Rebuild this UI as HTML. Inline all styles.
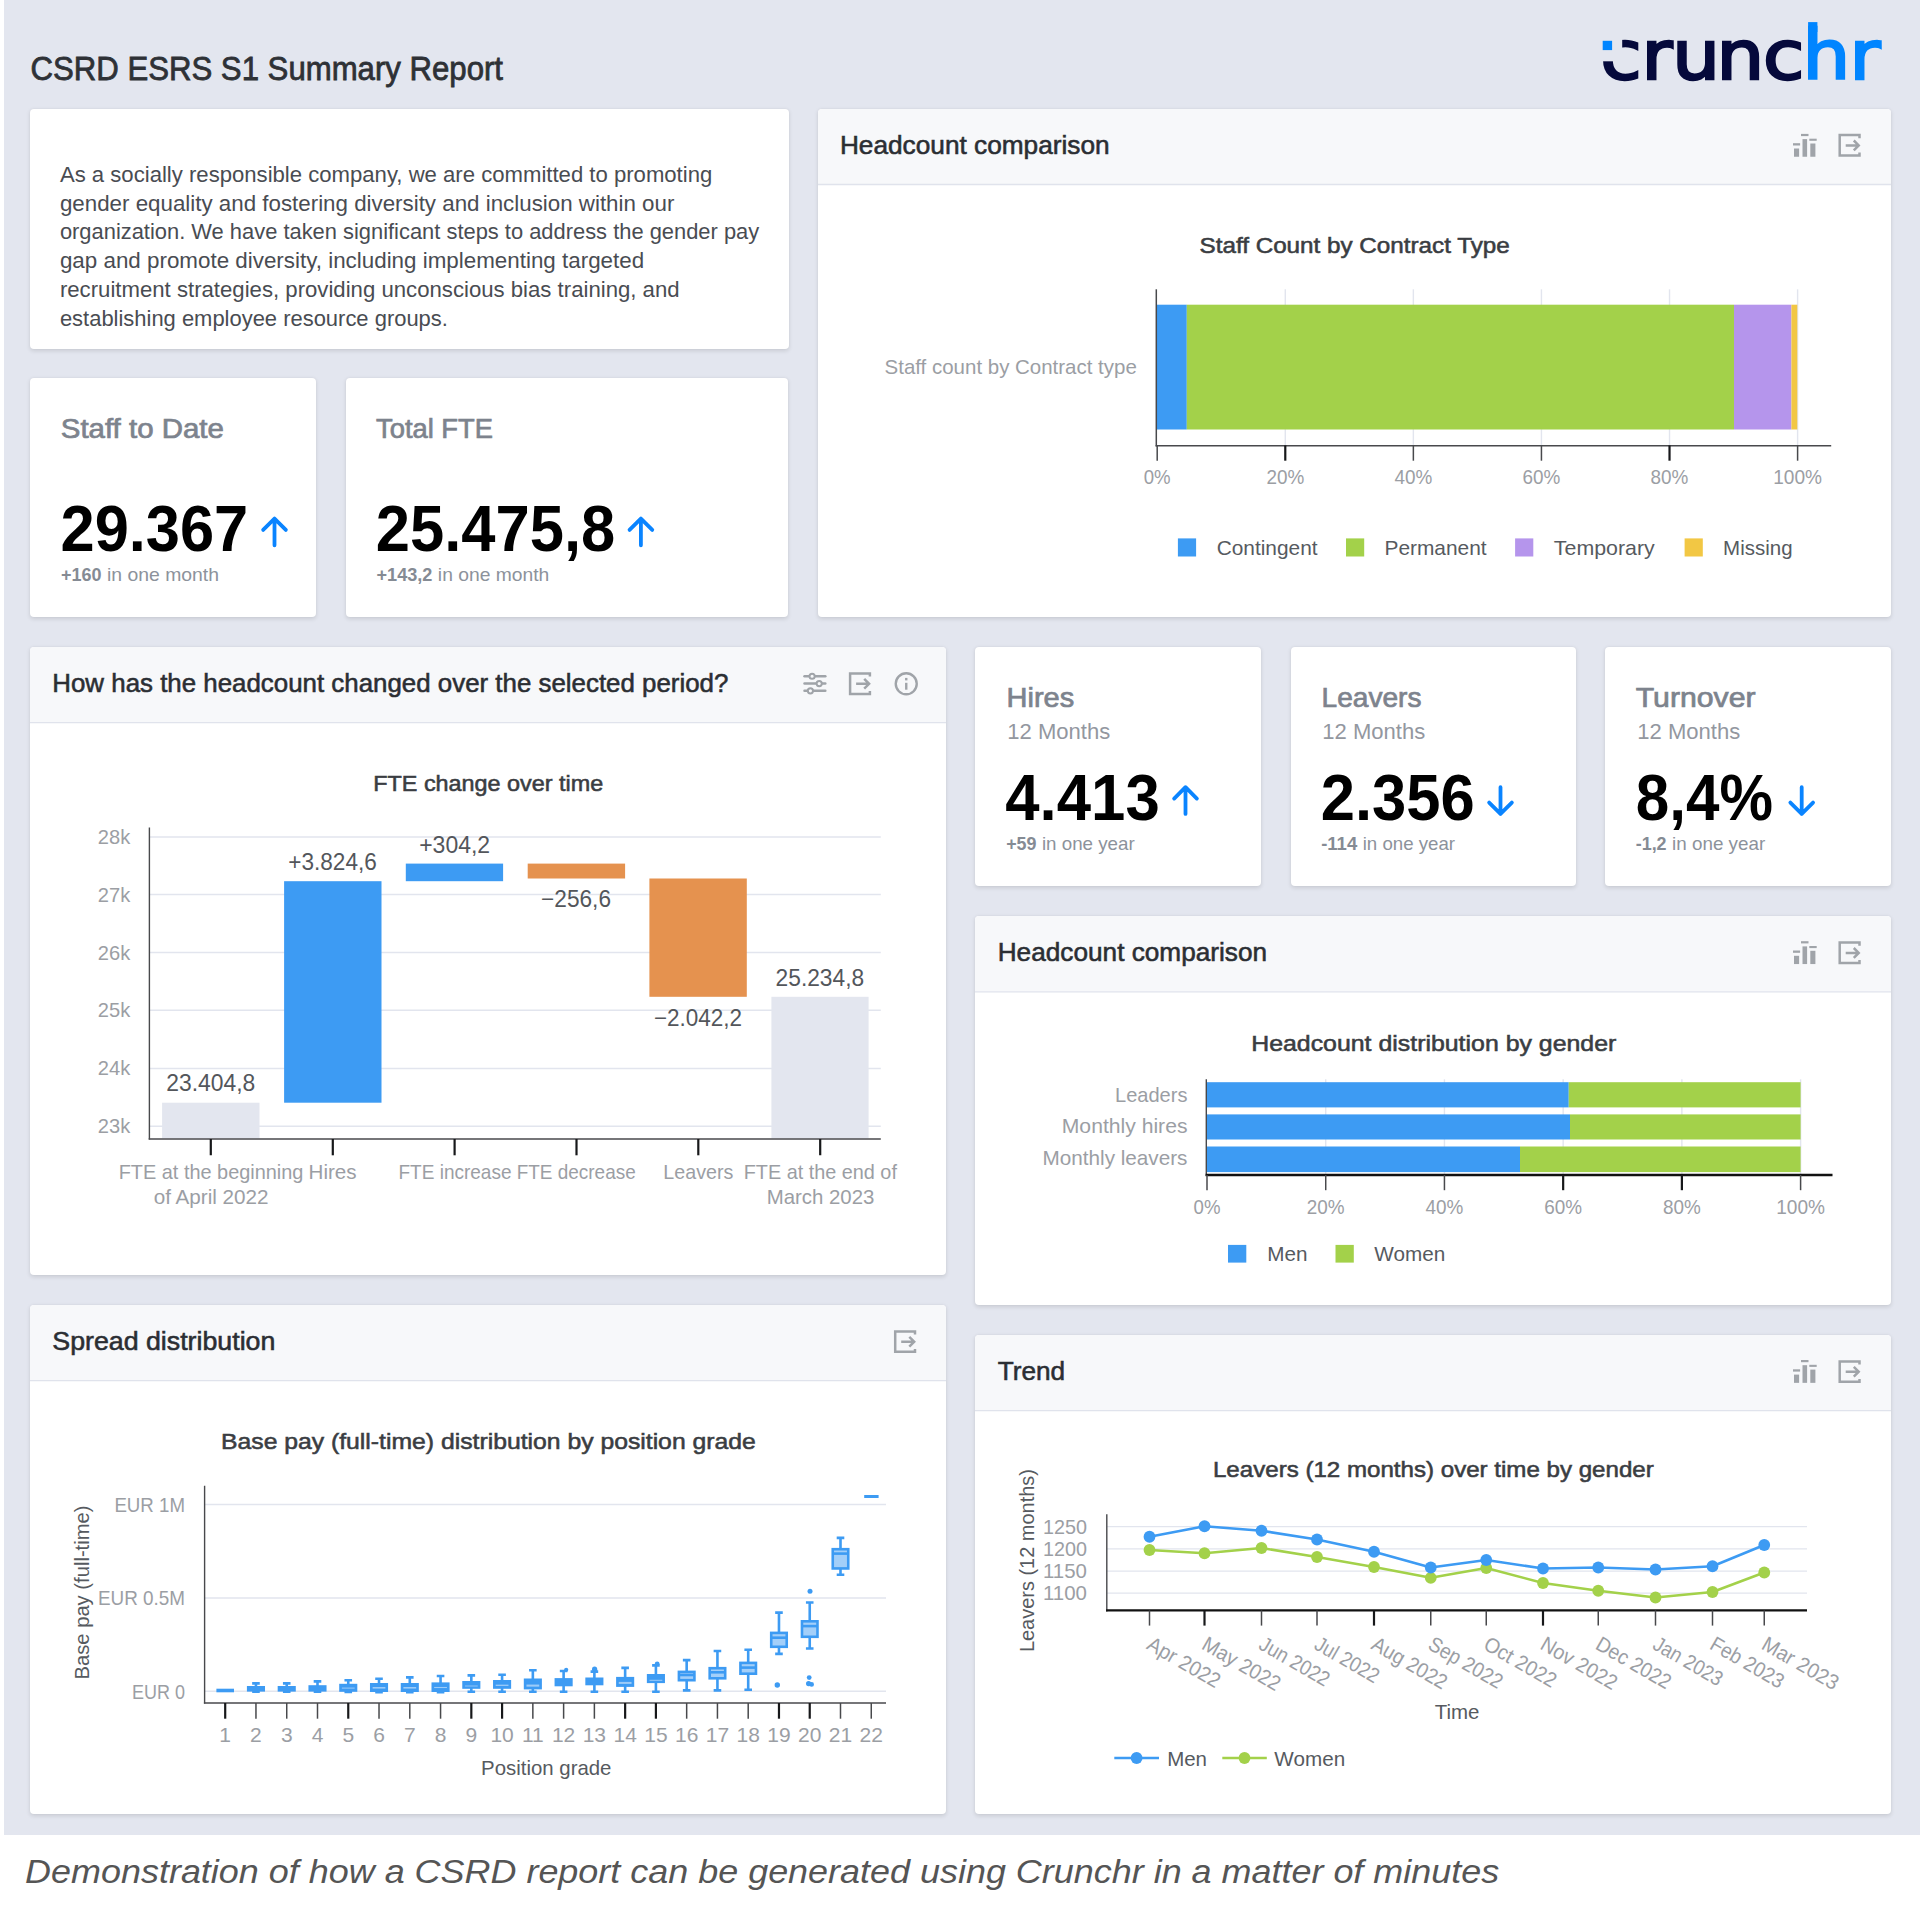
<!DOCTYPE html>
<html lang="en"><head><meta charset="utf-8"><title>CSRD ESRS S1 Summary Report</title>
<style>
html,body{margin:0;padding:0;background:#fff}
body{width:1920px;height:1918px;position:relative;overflow:hidden;font-family:"Liberation Sans",sans-serif}
svg{display:block;position:absolute;left:0;top:0;overflow:visible}
text{font-family:"Liberation Sans",sans-serif;font-weight:400}
.page{position:absolute;left:4px;top:0;width:1916px;height:1834.5px;background:#e3e6ef}
.card{position:absolute;background:#fff;border-radius:4px;box-shadow:0 1.5px 4px rgba(20,20,20,.12),0 0 2px rgba(20,20,20,.035);overflow:hidden}
.b{font-weight:700}
.semi{stroke:currentColor;stroke-width:.55px;paint-order:stroke}
.semi3{stroke:currentColor;stroke-width:.8px;paint-order:stroke}
.semi2{stroke:currentColor;stroke-width:.7px;paint-order:stroke}
.it{font-style:italic}
.logo{font-family:"DejaVu Sans","Liberation Sans",sans-serif;stroke-width:2.4px;stroke-linejoin:miter}
.cap{top:1835px}
</style></head><body>
<main class="page">
<svg class="hd" viewBox="4 0 1916 108" width="1916" height="108"><text x="30.52" y="79.5" font-size="33.7" fill="#2e3136" color="#2e3136" class="semi3" textLength="472.46" lengthAdjust="spacingAndGlyphs">CSRD ESRS S1 Summary Report</text><defs><linearGradient id="lg" gradientUnits="userSpaceOnUse" x1="1626.04" y1="0" x2="1626.22" y2="0"><stop offset="0" stop-color="#05093b"/><stop offset="1" stop-color="#0085ff"/></linearGradient></defs><text transform="scale(1.11 1)" y="79.5" x="1441.7 1478.93 1506.62 1546.29 1588.3 1623.96 1666.27" font-size="67.8" class="logo" fill="url(#lg)" stroke="url(#lg)">crunchr</text><rect x="1808.1" y="22.1" width="9.3" height="9.9" fill="#0085ff"/><rect x="1598" y="36" width="24.2" height="25.3" fill="#e3e6ef"/><rect x="1602.7" y="40.8" width="9.4" height="9.3" fill="#0085ff"/></svg>
<section class="card intro" style="left:26px;top:109px;width:759px;height:240px">
<svg class="cv" viewBox="30 109 759 240" width="759" height="240">
<text x="59.9" y="181.7" font-size="21.6" fill="#494c52" textLength="652.4" lengthAdjust="spacingAndGlyphs">As a socially responsible company, we are committed to promoting</text>
<text x="59.9" y="210.5" font-size="21.6" fill="#494c52" textLength="614.5" lengthAdjust="spacingAndGlyphs">gender equality and fostering diversity and inclusion within our</text>
<text x="59.9" y="239.3" font-size="21.6" fill="#494c52" textLength="699.3" lengthAdjust="spacingAndGlyphs">organization. We have taken significant steps to address the gender pay</text>
<text x="59.9" y="268.1" font-size="21.6" fill="#494c52" textLength="584.25" lengthAdjust="spacingAndGlyphs">gap and promote diversity, including implementing targeted</text>
<text x="59.9" y="296.9" font-size="21.6" fill="#494c52" textLength="619.7" lengthAdjust="spacingAndGlyphs">recruitment strategies, providing unconscious bias training, and</text>
<text x="59.9" y="325.7" font-size="21.6" fill="#494c52" textLength="388" lengthAdjust="spacingAndGlyphs">establishing employee resource groups.</text>
</svg></section>
<section class="card kpi staff" style="left:26px;top:378px;width:286px;height:239px">
<svg class="cv" viewBox="30 378 286 239" width="286" height="239">
<text x="60.76" y="437.7" font-size="26.9" fill="#7d838d" color="#7d838d" class="semi2" textLength="163.18" lengthAdjust="spacingAndGlyphs">Staff to Date</text>
<text x="60.5" y="551.25" font-size="64" fill="#000" class="b" textLength="187.7" lengthAdjust="spacingAndGlyphs">29.367</text>
<path d="M274.5 545.3 V518.6 M263.15 529.95 L274.5 518.6 L285.85 529.95" fill="none" stroke="#0a84ff" stroke-width="3.8" stroke-linecap="round" stroke-linejoin="round"/>
<text x="61" y="581.4" font-size="18.5" fill="#858b94" class="b" textLength="40.5" lengthAdjust="spacingAndGlyphs">+160</text>
<text x="107" y="581.4" font-size="18.5" fill="#8c929b" textLength="112" lengthAdjust="spacingAndGlyphs">in one month</text>
</svg></section>
<section class="card kpi fte" style="left:342px;top:378px;width:442px;height:239px">
<svg class="cv" viewBox="346 378 442 239" width="442" height="239">
<text x="376.06" y="437.7" font-size="26.9" fill="#7d838d" color="#7d838d" class="semi2" textLength="116.88" lengthAdjust="spacingAndGlyphs">Total FTE</text>
<text x="375.8" y="551.25" font-size="64" fill="#000" class="b" textLength="239.4" lengthAdjust="spacingAndGlyphs">25.475,8</text>
<path d="M640.9 545.3 V518.6 M629.55 529.95 L640.9 518.6 L652.25 529.95" fill="none" stroke="#0a84ff" stroke-width="3.8" stroke-linecap="round" stroke-linejoin="round"/>
<text x="376.5" y="581.4" font-size="18.5" fill="#858b94" class="b" textLength="55.88" lengthAdjust="spacingAndGlyphs">+143,2</text>
<text x="437.88" y="581.4" font-size="18.5" fill="#8c929b" textLength="111.37" lengthAdjust="spacingAndGlyphs">in one month</text>
</svg></section>
<section class="card kpi hires" style="left:971px;top:647px;width:286px;height:239px">
<svg class="cv" viewBox="975 647 286 239" width="286" height="239">
<text x="1007.23" y="739.05" font-size="22" fill="#93979f" textLength="103.04" lengthAdjust="spacingAndGlyphs">12 Months</text>
<text x="1006.56" y="706.7" font-size="26.9" fill="#7d838d" color="#7d838d" class="semi2" textLength="67.68" lengthAdjust="spacingAndGlyphs">Hires</text>
<text x="1005.3" y="820" font-size="64" fill="#000" class="b" textLength="154.4" lengthAdjust="spacingAndGlyphs">4.413</text>
<path d="M1185.5 813.9 V787.2 M1174.15 798.55 L1185.5 787.2 L1196.85 798.55" fill="none" stroke="#0a84ff" stroke-width="3.8" stroke-linecap="round" stroke-linejoin="round"/>
<text x="1006.2" y="850.3" font-size="18.5" fill="#858b94" class="b" textLength="30.25" lengthAdjust="spacingAndGlyphs">+59</text>
<text x="1041.95" y="850.3" font-size="18.5" fill="#8c929b" textLength="92.75" lengthAdjust="spacingAndGlyphs">in one year</text>
</svg></section>
<section class="card kpi leavers" style="left:1287px;top:647px;width:285px;height:239px">
<svg class="cv" viewBox="1291 647 285 239" width="285" height="239">
<text x="1322.23" y="739.05" font-size="22" fill="#93979f" textLength="103.04" lengthAdjust="spacingAndGlyphs">12 Months</text>
<text x="1321.56" y="706.7" font-size="26.9" fill="#7d838d" color="#7d838d" class="semi2" textLength="99.88" lengthAdjust="spacingAndGlyphs">Leavers</text>
<text x="1320.8" y="820" font-size="64" fill="#000" class="b" textLength="153.9" lengthAdjust="spacingAndGlyphs">2.356</text>
<path d="M1500.5 787.2 V813.9 M1489.15 802.55 L1500.5 813.9 L1511.85 802.55" fill="none" stroke="#0a84ff" stroke-width="3.8" stroke-linecap="round" stroke-linejoin="round"/>
<text x="1321.2" y="850.3" font-size="18.5" fill="#858b94" class="b" textLength="36.02" lengthAdjust="spacingAndGlyphs">-114</text>
<text x="1362.72" y="850.3" font-size="18.5" fill="#8c929b" textLength="92.28" lengthAdjust="spacingAndGlyphs">in one year</text>
</svg></section>
<section class="card kpi turnover" style="left:1601px;top:647px;width:286px;height:239px">
<svg class="cv" viewBox="1605 647 286 239" width="286" height="239">
<text x="1637.23" y="739.05" font-size="22" fill="#93979f" textLength="103.04" lengthAdjust="spacingAndGlyphs">12 Months</text>
<text x="1635.76" y="706.7" font-size="26.9" fill="#7d838d" color="#7d838d" class="semi2" textLength="119.88" lengthAdjust="spacingAndGlyphs">Turnover</text>
<text x="1635.8" y="820" font-size="64" fill="#000" class="b" textLength="137.2" lengthAdjust="spacingAndGlyphs">8,4%</text>
<path d="M1801.7 787.2 V813.9 M1790.35 802.55 L1801.7 813.9 L1813.05 802.55" fill="none" stroke="#0a84ff" stroke-width="3.8" stroke-linecap="round" stroke-linejoin="round"/>
<text x="1635.7" y="850.3" font-size="18.5" fill="#858b94" class="b" textLength="30.9" lengthAdjust="spacingAndGlyphs">-1,2</text>
<text x="1672.1" y="850.3" font-size="18.5" fill="#8c929b" textLength="93.1" lengthAdjust="spacingAndGlyphs">in one year</text>
</svg></section>
<section class="card chart contract" style="left:814px;top:109px;width:1073px;height:508px">
<svg class="cv" viewBox="818 109 1073 508" width="1073" height="508">
<rect x="818" y="109" width="1073" height="75.1" fill="#f7f8fa"/>
<line x1="818" y1="184.5" x2="1891" y2="184.5" stroke="#e0e3ec" stroke-width="1.3"/>
<text x="839.91" y="153.75" font-size="25.3" fill="#2b2e33" color="#2b2e33" class="semi" textLength="269.72" lengthAdjust="spacingAndGlyphs">Headcount comparison</text>
<g fill="#a0a4a9"><rect x="1793" y="143.2" width="7.1" height="2.3" fill="#a0a4a9"/><rect x="1794" y="148.5" width="5.1" height="8.25" fill="#a0a4a9"/><rect x="1801" y="133.9" width="7.5" height="2.2" fill="#a0a4a9"/><rect x="1802.5" y="139.1" width="4.6" height="17.65" fill="#a0a4a9"/><rect x="1809.3" y="138.7" width="7.4" height="2.1" fill="#a0a4a9"/><rect x="1810.3" y="143.5" width="5.1" height="13.25" fill="#a0a4a9"/></g>
<path d="M1859.5 138.2 V135.1 H1839.7 V155.55 H1859.5 V152.6" fill="none" stroke="#a0a4a9" stroke-width="2.5"/><path d="M1845.7 145.4 H1857.6 M1853.8 140.5 L1858.7 145.4 L1853.8 150.3" fill="none" stroke="#a0a4a9" stroke-width="2.5" stroke-linejoin="miter"/>
<text x="1199.52" y="252.5" font-size="22.3" fill="#3a3d42" color="#3a3d42" class="semi" textLength="310.26" lengthAdjust="spacingAndGlyphs">Staff Count by Contract Type</text>
<line x1="1285.28" y1="289.3" x2="1285.28" y2="445" stroke="#e2e5ee" stroke-width="1.4"/>
<line x1="1413.36" y1="289.3" x2="1413.36" y2="445" stroke="#e2e5ee" stroke-width="1.4"/>
<line x1="1541.44" y1="289.3" x2="1541.44" y2="445" stroke="#e2e5ee" stroke-width="1.4"/>
<line x1="1669.52" y1="289.3" x2="1669.52" y2="445" stroke="#e2e5ee" stroke-width="1.4"/>
<line x1="1797.6" y1="289.3" x2="1797.6" y2="445" stroke="#e2e5ee" stroke-width="1.4"/>
<rect x="1156.8" y="304.7" width="30" height="124.8" fill="#3d9bf3"/>
<rect x="1186.8" y="304.7" width="547.2" height="124.8" fill="#a3d14a"/>
<rect x="1734" y="304.7" width="57.4" height="124.8" fill="#b595ec"/>
<rect x="1791.4" y="304.7" width="5.9" height="124.8" fill="#f2c744"/>
<line x1="1156.3" y1="289.3" x2="1156.3" y2="446.4" stroke="#48494c" stroke-width="1.5"/>
<line x1="1155.6" y1="445.7" x2="1831.2" y2="445.7" stroke="#48494c" stroke-width="1.5"/>
<line x1="1157.2" y1="445.4" x2="1157.2" y2="460.7" stroke="#48494c" stroke-width="1.5"/>
<text x="1157.2" y="483.8" font-size="21" fill="#9b9ea4" textLength="26.9" lengthAdjust="spacingAndGlyphs" text-anchor="middle">0%</text>
<line x1="1285.28" y1="445.4" x2="1285.28" y2="460.7" stroke="#17181a" stroke-width="2.2"/>
<text x="1285.28" y="483.8" font-size="21" fill="#9b9ea4" textLength="37.8" lengthAdjust="spacingAndGlyphs" text-anchor="middle">20%</text>
<line x1="1413.36" y1="445.4" x2="1413.36" y2="460.7" stroke="#48494c" stroke-width="1.5"/>
<text x="1413.36" y="483.8" font-size="21" fill="#9b9ea4" textLength="37.8" lengthAdjust="spacingAndGlyphs" text-anchor="middle">40%</text>
<line x1="1541.44" y1="445.4" x2="1541.44" y2="460.7" stroke="#48494c" stroke-width="1.5"/>
<text x="1541.44" y="483.8" font-size="21" fill="#9b9ea4" textLength="37.8" lengthAdjust="spacingAndGlyphs" text-anchor="middle">60%</text>
<line x1="1669.52" y1="445.4" x2="1669.52" y2="460.7" stroke="#17181a" stroke-width="2.2"/>
<text x="1669.52" y="483.8" font-size="21" fill="#9b9ea4" textLength="37.8" lengthAdjust="spacingAndGlyphs" text-anchor="middle">80%</text>
<line x1="1797.6" y1="445.4" x2="1797.6" y2="460.7" stroke="#48494c" stroke-width="1.5"/>
<text x="1797.6" y="483.8" font-size="21" fill="#9b9ea4" textLength="48.8" lengthAdjust="spacingAndGlyphs" text-anchor="middle">100%</text>
<text x="884.57" y="374" font-size="20.8" fill="#9b9ea4" textLength="252.26" lengthAdjust="spacingAndGlyphs">Staff count by Contract type</text>
<rect x="1177.9" y="538.4" width="18.2" height="18.1" fill="#3d9bf3"/>
<text x="1216.67" y="555.4" font-size="20.9" fill="#565a60" textLength="100.86" lengthAdjust="spacingAndGlyphs">Contingent</text>
<rect x="1346" y="538.4" width="18.2" height="18.1" fill="#a3d14a"/>
<text x="1384.47" y="555.4" font-size="20.9" fill="#565a60" textLength="102.16" lengthAdjust="spacingAndGlyphs">Permanent</text>
<rect x="1515.1" y="538.4" width="18.2" height="18.1" fill="#b595ec"/>
<text x="1553.87" y="555.4" font-size="20.9" fill="#565a60" textLength="100.86" lengthAdjust="spacingAndGlyphs">Temporary</text>
<rect x="1684.6" y="538.4" width="18.2" height="18.1" fill="#f2c744"/>
<text x="1723.07" y="555.4" font-size="20.9" fill="#565a60" textLength="69.46" lengthAdjust="spacingAndGlyphs">Missing</text>
</svg></section>
<section class="card chart waterfall" style="left:26px;top:647px;width:916px;height:628px">
<svg class="cv" viewBox="30 647 916 628" width="916" height="628">
<rect x="30" y="647" width="916" height="75.2" fill="#f7f8fa"/>
<line x1="30" y1="722.6" x2="946" y2="722.6" stroke="#e0e3ec" stroke-width="1.3"/>
<text x="52.31" y="691.85" font-size="25.3" fill="#2b2e33" color="#2b2e33" class="semi" textLength="676.07" lengthAdjust="spacingAndGlyphs">How has the headcount changed over the selected period?</text>
<line x1="804.5" y1="676.25" x2="825.3" y2="676.25" stroke="#a0a4a9" stroke-width="2.5" stroke-linecap="round"/><circle cx="812.1" cy="676.25" r="2.6" fill="#f7f8fa" stroke="#a0a4a9" stroke-width="2"/><line x1="804.5" y1="683.6" x2="825.3" y2="683.6" stroke="#a0a4a9" stroke-width="2.5" stroke-linecap="round"/><circle cx="819.2" cy="683.6" r="2.6" fill="#f7f8fa" stroke="#a0a4a9" stroke-width="2"/><line x1="804.5" y1="690.85" x2="825.3" y2="690.85" stroke="#a0a4a9" stroke-width="2.5" stroke-linecap="round"/><circle cx="810.4" cy="690.85" r="2.6" fill="#f7f8fa" stroke="#a0a4a9" stroke-width="2"/>
<path d="M869.9 676.6 V673.5 H850.1 V693.95 H869.9 V691" fill="none" stroke="#a0a4a9" stroke-width="2.5"/><path d="M856.1 683.8 H868 M864.2 678.9 L869.1 683.8 L864.2 688.7" fill="none" stroke="#a0a4a9" stroke-width="2.5" stroke-linejoin="miter"/>
<circle cx="906.25" cy="683.8" r="10.5" fill="none" stroke="#a0a4a9" stroke-width="2.4"/>
<rect x="905.05" y="677.9" width="2.4" height="2.5" fill="#a0a4a9"/>
<rect x="905.05" y="682.8" width="2.4" height="6.9" fill="#a0a4a9"/>
<text x="373.22" y="790.75" font-size="22.3" fill="#3a3d42" color="#3a3d42" class="semi" textLength="230.06" lengthAdjust="spacingAndGlyphs">FTE change over time</text>
<line x1="149.4" y1="836.9" x2="880.8" y2="836.9" stroke="#e2e5ee" stroke-width="1.5"/>
<text x="130.2" y="843.8" font-size="21" fill="#9b9ea4" textLength="32.4" lengthAdjust="spacingAndGlyphs" text-anchor="end">28k</text>
<line x1="149.4" y1="894.6" x2="880.8" y2="894.6" stroke="#e2e5ee" stroke-width="1.5"/>
<text x="130.2" y="901.5" font-size="21" fill="#9b9ea4" textLength="32.4" lengthAdjust="spacingAndGlyphs" text-anchor="end">27k</text>
<line x1="149.4" y1="952.6" x2="880.8" y2="952.6" stroke="#e2e5ee" stroke-width="1.5"/>
<text x="130.2" y="959.5" font-size="21" fill="#9b9ea4" textLength="32.4" lengthAdjust="spacingAndGlyphs" text-anchor="end">26k</text>
<line x1="149.4" y1="1010.3" x2="880.8" y2="1010.3" stroke="#e2e5ee" stroke-width="1.5"/>
<text x="130.2" y="1017.2" font-size="21" fill="#9b9ea4" textLength="32.4" lengthAdjust="spacingAndGlyphs" text-anchor="end">25k</text>
<line x1="149.4" y1="1068.4" x2="880.8" y2="1068.4" stroke="#e2e5ee" stroke-width="1.5"/>
<text x="130.2" y="1075.3" font-size="21" fill="#9b9ea4" textLength="32.4" lengthAdjust="spacingAndGlyphs" text-anchor="end">24k</text>
<line x1="149.4" y1="1126.2" x2="880.8" y2="1126.2" stroke="#e2e5ee" stroke-width="1.5"/>
<text x="130.2" y="1133.1" font-size="21" fill="#9b9ea4" textLength="32.4" lengthAdjust="spacingAndGlyphs" text-anchor="end">23k</text>
<rect x="162.1" y="1102.7" width="97.4" height="35.6" fill="#e3e6ef"/>
<rect x="284.1" y="881.2" width="97.4" height="221.5" fill="#3d9bf3"/>
<rect x="405.8" y="863.6" width="97.3" height="17.6" fill="#3d9bf3"/>
<rect x="527.7" y="863.6" width="97.4" height="14.9" fill="#e5924f"/>
<rect x="649.4" y="878.5" width="97.4" height="118.3" fill="#e5924f"/>
<rect x="771.4" y="996.8" width="97.2" height="141.5" fill="#e3e6ef"/>
<line x1="149.4" y1="827.5" x2="149.4" y2="1139.6" stroke="#48494c" stroke-width="1.4"/>
<line x1="148.7" y1="1138.9" x2="880.8" y2="1138.9" stroke="#48494c" stroke-width="1.5"/>
<line x1="210.8" y1="1139" x2="210.8" y2="1155.3" stroke="#17181a" stroke-width="2.2"/>
<line x1="332.8" y1="1139" x2="332.8" y2="1155.3" stroke="#17181a" stroke-width="2.2"/>
<line x1="454.6" y1="1139" x2="454.6" y2="1155.3" stroke="#17181a" stroke-width="2.2"/>
<line x1="576.5" y1="1139" x2="576.5" y2="1155.3" stroke="#17181a" stroke-width="2.2"/>
<line x1="698.3" y1="1139" x2="698.3" y2="1155.3" stroke="#17181a" stroke-width="2.2"/>
<line x1="820.2" y1="1139" x2="820.2" y2="1155.3" stroke="#17181a" stroke-width="2.2"/>
<text x="166.29" y="1090.9" font-size="23" fill="#53565b" textLength="89.01" lengthAdjust="spacingAndGlyphs">23.404,8</text>
<text x="288.3" y="870.2" font-size="23" fill="#53565b" textLength="88.51" lengthAdjust="spacingAndGlyphs">+3.824,6</text>
<text x="419.19" y="852.7" font-size="23" fill="#53565b" textLength="70.91" lengthAdjust="spacingAndGlyphs">+304,2</text>
<text x="541.1" y="907" font-size="23" fill="#53565b" textLength="69.91" lengthAdjust="spacingAndGlyphs">−256,6</text>
<text x="653.9" y="1025.7" font-size="23" fill="#53565b" textLength="88.11" lengthAdjust="spacingAndGlyphs">−2.042,2</text>
<text x="775.6" y="985.8" font-size="23" fill="#53565b" textLength="88.51" lengthAdjust="spacingAndGlyphs">25.234,8</text>
<text x="118.67" y="1179" font-size="20.8" fill="#9b9ea4" textLength="184.76" lengthAdjust="spacingAndGlyphs">FTE at the beginning</text>
<text x="153.67" y="1203.7" font-size="20.8" fill="#9b9ea4" textLength="114.96" lengthAdjust="spacingAndGlyphs">of April 2022</text>
<text x="308.57" y="1179" font-size="20.8" fill="#9b9ea4" textLength="48.06" lengthAdjust="spacingAndGlyphs">Hires</text>
<text x="398.47" y="1179" font-size="20.8" fill="#9b9ea4" textLength="113.06" lengthAdjust="spacingAndGlyphs">FTE increase</text>
<text x="516.67" y="1179" font-size="20.8" fill="#9b9ea4" textLength="119.06" lengthAdjust="spacingAndGlyphs">FTE decrease</text>
<text x="663.37" y="1179" font-size="20.8" fill="#9b9ea4" textLength="69.96" lengthAdjust="spacingAndGlyphs">Leavers</text>
<text x="743.67" y="1179" font-size="20.8" fill="#9b9ea4" textLength="153.26" lengthAdjust="spacingAndGlyphs">FTE at the end of</text>
<text x="766.67" y="1203.7" font-size="20.8" fill="#9b9ea4" textLength="107.66" lengthAdjust="spacingAndGlyphs">March 2023</text>
</svg></section>
<section class="card chart gender" style="left:971px;top:916px;width:916px;height:389px">
<svg class="cv" viewBox="975 916 916 389" width="916" height="389">
<rect x="975" y="916" width="916" height="75.4" fill="#f7f8fa"/>
<line x1="975" y1="991.8" x2="1891" y2="991.8" stroke="#e0e3ec" stroke-width="1.3"/>
<text x="997.71" y="961.05" font-size="25.3" fill="#2b2e33" color="#2b2e33" class="semi" textLength="269.42" lengthAdjust="spacingAndGlyphs">Headcount comparison</text>
<g fill="#a0a4a9"><rect x="1793" y="950.5" width="7.1" height="2.3" fill="#a0a4a9"/><rect x="1794" y="955.8" width="5.1" height="8.25" fill="#a0a4a9"/><rect x="1801" y="941.2" width="7.5" height="2.2" fill="#a0a4a9"/><rect x="1802.5" y="946.4" width="4.6" height="17.65" fill="#a0a4a9"/><rect x="1809.3" y="946" width="7.4" height="2.1" fill="#a0a4a9"/><rect x="1810.3" y="950.8" width="5.1" height="13.25" fill="#a0a4a9"/></g>
<path d="M1859.5 945.7 V942.6 H1839.7 V963.05 H1859.5 V960.1" fill="none" stroke="#a0a4a9" stroke-width="2.5"/><path d="M1845.7 952.9 H1857.6 M1853.8 948 L1858.7 952.9 L1853.8 957.8" fill="none" stroke="#a0a4a9" stroke-width="2.5" stroke-linejoin="miter"/>
<text x="1251.22" y="1051.25" font-size="22.3" fill="#3a3d42" color="#3a3d42" class="semi" textLength="365.06" lengthAdjust="spacingAndGlyphs">Headcount distribution by gender</text>
<line x1="1325.72" y1="1079.3" x2="1325.72" y2="1174" stroke="#e2e5ee" stroke-width="1.4"/>
<line x1="1444.44" y1="1079.3" x2="1444.44" y2="1174" stroke="#e2e5ee" stroke-width="1.4"/>
<line x1="1563.16" y1="1079.3" x2="1563.16" y2="1174" stroke="#e2e5ee" stroke-width="1.4"/>
<line x1="1681.88" y1="1079.3" x2="1681.88" y2="1174" stroke="#e2e5ee" stroke-width="1.4"/>
<line x1="1800.6" y1="1079.3" x2="1800.6" y2="1174" stroke="#e2e5ee" stroke-width="1.4"/>
<rect x="1206.8" y="1082.2" width="361.95" height="25.2" fill="#3d9bf3"/>
<rect x="1568.75" y="1082.2" width="231.85" height="25.2" fill="#a3d14a"/>
<rect x="1206.8" y="1114.4" width="363.2" height="25.1" fill="#3d9bf3"/>
<rect x="1570" y="1114.4" width="230.6" height="25.1" fill="#a3d14a"/>
<rect x="1206.8" y="1146.5" width="313.2" height="25.6" fill="#3d9bf3"/>
<rect x="1520" y="1146.5" width="280.6" height="25.6" fill="#a3d14a"/>
<line x1="1206.3" y1="1079.3" x2="1206.3" y2="1176" stroke="#48494c" stroke-width="1.4"/>
<line x1="1205.6" y1="1175" x2="1832.5" y2="1175" stroke="#111" stroke-width="2.3"/>
<line x1="1207" y1="1175" x2="1207" y2="1190.2" stroke="#48494c" stroke-width="1.5"/>
<text x="1207" y="1214.25" font-size="21" fill="#9b9ea4" textLength="26.9" lengthAdjust="spacingAndGlyphs" text-anchor="middle">0%</text>
<line x1="1325.72" y1="1175" x2="1325.72" y2="1190.2" stroke="#48494c" stroke-width="1.5"/>
<text x="1325.72" y="1214.25" font-size="21" fill="#9b9ea4" textLength="37.8" lengthAdjust="spacingAndGlyphs" text-anchor="middle">20%</text>
<line x1="1444.44" y1="1175" x2="1444.44" y2="1190.2" stroke="#48494c" stroke-width="1.5"/>
<text x="1444.44" y="1214.25" font-size="21" fill="#9b9ea4" textLength="37.8" lengthAdjust="spacingAndGlyphs" text-anchor="middle">40%</text>
<line x1="1563.16" y1="1175" x2="1563.16" y2="1190.2" stroke="#17181a" stroke-width="2.2"/>
<text x="1563.16" y="1214.25" font-size="21" fill="#9b9ea4" textLength="37.8" lengthAdjust="spacingAndGlyphs" text-anchor="middle">60%</text>
<line x1="1681.88" y1="1175" x2="1681.88" y2="1190.2" stroke="#17181a" stroke-width="2.2"/>
<text x="1681.88" y="1214.25" font-size="21" fill="#9b9ea4" textLength="37.8" lengthAdjust="spacingAndGlyphs" text-anchor="middle">80%</text>
<line x1="1800.6" y1="1175" x2="1800.6" y2="1190.2" stroke="#48494c" stroke-width="1.5"/>
<text x="1800.6" y="1214.25" font-size="21" fill="#9b9ea4" textLength="48.8" lengthAdjust="spacingAndGlyphs" text-anchor="middle">100%</text>
<text x="1115.02" y="1102" font-size="20.8" fill="#9b9ea4" textLength="72.46" lengthAdjust="spacingAndGlyphs">Leaders</text>
<text x="1061.77" y="1133.2" font-size="20.8" fill="#9b9ea4" textLength="125.71" lengthAdjust="spacingAndGlyphs">Monthly hires</text>
<text x="1042.52" y="1165" font-size="20.8" fill="#9b9ea4" textLength="144.96" lengthAdjust="spacingAndGlyphs">Monthly leavers</text>
<rect x="1228" y="1244.9" width="18.3" height="17.7" fill="#3d9bf3"/>
<text x="1267.27" y="1261.25" font-size="20.9" fill="#565a60" textLength="40.21" lengthAdjust="spacingAndGlyphs">Men</text>
<rect x="1335.5" y="1244.9" width="18.3" height="17.7" fill="#a3d14a"/>
<text x="1374.27" y="1261.25" font-size="20.9" fill="#565a60" textLength="70.96" lengthAdjust="spacingAndGlyphs">Women</text>
</svg></section>
<section class="card chart spread" style="left:26px;top:1305px;width:916px;height:509px">
<svg class="cv" viewBox="30 1305 916 509" width="916" height="509">
<rect x="30" y="1305" width="916" height="75.2" fill="#f7f8fa"/>
<line x1="30" y1="1380.6" x2="946" y2="1380.6" stroke="#e0e3ec" stroke-width="1.3"/>
<text x="52.31" y="1349.85" font-size="25.3" fill="#2b2e33" color="#2b2e33" class="semi" textLength="223.07" lengthAdjust="spacingAndGlyphs">Spread distribution</text>
<path d="M915 1334.5 V1331.4 H895.2 V1351.85 H915 V1348.9" fill="none" stroke="#a0a4a9" stroke-width="2.5"/><path d="M901.2 1341.7 H913.1 M909.3 1336.8 L914.2 1341.7 L909.3 1346.6" fill="none" stroke="#a0a4a9" stroke-width="2.5" stroke-linejoin="miter"/>
<text x="221.02" y="1448.75" font-size="22.3" fill="#3a3d42" color="#3a3d42" class="semi" textLength="534.76" lengthAdjust="spacingAndGlyphs">Base pay (full-time) distribution by position grade</text>
<line x1="204.6" y1="1504.6" x2="886" y2="1504.6" stroke="#e2e5ee" stroke-width="1.5"/>
<text x="185" y="1512" font-size="21" fill="#9b9ea4" textLength="70.6" lengthAdjust="spacingAndGlyphs" text-anchor="end">EUR 1M</text>
<line x1="204.6" y1="1598" x2="886" y2="1598" stroke="#e2e5ee" stroke-width="1.5"/>
<text x="185" y="1605.4" font-size="21" fill="#9b9ea4" textLength="87" lengthAdjust="spacingAndGlyphs" text-anchor="end">EUR 0.5M</text>
<line x1="204.6" y1="1691.3" x2="886" y2="1691.3" stroke="#e2e5ee" stroke-width="1.5"/>
<text x="185" y="1698.7" font-size="21" fill="#9b9ea4" textLength="53" lengthAdjust="spacingAndGlyphs" text-anchor="end">EUR 0</text>
<text x="0" y="0" font-size="20.9" fill="#565a60" text-anchor="middle" transform="translate(89.4 1592.5) rotate(-90)" textLength="174" lengthAdjust="spacingAndGlyphs">Base pay (full-time)</text>
<g stroke="#3d9bf3" stroke-width="2.6" fill="none"><line x1="216.4" y1="1690.5" x2="234" y2="1690.5" stroke="#3d9bf3" stroke-width="3.6"/><path d="M252.16 1683.4H259.76 M255.96 1683.4V1687.25"/><path d="M252.16 1691.8H259.76 M255.96 1691.8V1690.35"/><rect x="246.91" y="1686" width="18.1" height="5.6" fill="#3d9bf3" stroke="none"/><path d="M282.93 1683.4H290.53 M286.73 1683.4V1687.25"/><path d="M282.93 1691.8H290.53 M286.73 1691.8V1690.35"/><rect x="277.68" y="1686" width="18.1" height="5.6" fill="#3d9bf3" stroke="none"/><path d="M313.69 1681.4H321.3 M317.5 1681.4V1686.45"/><path d="M313.69 1691.8H321.3 M317.5 1691.8V1690.35"/><rect x="308.44" y="1685.2" width="18.1" height="6.4" fill="#3d9bf3" stroke="none"/><path d="M344.46 1680.2H352.06 M348.26 1680.2V1685.05"/><path d="M344.46 1692H352.06 M348.26 1692V1690.55"/><rect x="339.21" y="1683.8" width="18.1" height="8" fill="#3d9bf3" stroke="none"/><line x1="341.86" y1="1688.1" x2="354.66" y2="1688.1" stroke="#9ccbf8" stroke-width="1"/><path d="M375.22 1678.8H382.82 M379.02 1678.8V1684.25"/><path d="M375.22 1692.2H382.82 M379.02 1692.2V1690.75"/><rect x="369.97" y="1683" width="18.1" height="9" fill="#3d9bf3" stroke="none"/><line x1="372.62" y1="1687.8" x2="385.42" y2="1687.8" stroke="#9ccbf8" stroke-width="1.6"/><path d="M405.99 1677.4H413.59 M409.79 1677.4V1684.25"/><path d="M405.99 1692.2H413.59 M409.79 1692.2V1690.75"/><rect x="400.74" y="1683" width="18.1" height="9" fill="#3d9bf3" stroke="none"/><line x1="403.39" y1="1687.8" x2="416.19" y2="1687.8" stroke="#9ccbf8" stroke-width="1.6"/><path d="M436.75 1676H444.36 M440.56 1676V1683.65"/><path d="M436.75 1692.2H444.36 M440.56 1692.2V1690.75"/><rect x="431.5" y="1682.4" width="18.1" height="9.6" fill="#3d9bf3" stroke="none"/><line x1="434.16" y1="1687.5" x2="446.95" y2="1687.5" stroke="#9ccbf8" stroke-width="1.1"/><path d="M467.52 1675.4H475.12 M471.32 1675.4V1682.25"/><path d="M467.52 1691.8H475.12 M471.32 1691.8V1687.55"/><rect x="462.27" y="1681" width="18.1" height="7.8" fill="#3d9bf3" stroke="none"/><line x1="464.92" y1="1686" x2="477.72" y2="1686" stroke="#9ccbf8" stroke-width="0.9"/><path d="M498.28 1674.8H505.88 M502.08 1674.8V1681.25"/><path d="M498.28 1691.8H505.88 M502.08 1691.8V1687.55"/><rect x="493.03" y="1680" width="18.1" height="8.8" fill="#3d9bf3" stroke="none"/><line x1="495.69" y1="1685.3" x2="508.48" y2="1685.3" stroke="#9ccbf8" stroke-width="1.3"/><path d="M529.05 1670.2H536.65 M532.85 1670.2V1679.75"/><path d="M529.05 1691.8H536.65 M532.85 1691.8V1688.15"/><rect x="523.8" y="1678.5" width="18.1" height="10.9" fill="#3d9bf3" stroke="none"/><line x1="526.45" y1="1685.6" x2="539.25" y2="1685.6" stroke="#9ccbf8" stroke-width="2.1"/><path d="M559.82 1671H567.41 M563.62 1671V1679.35"/><path d="M559.82 1691.8H567.41 M563.62 1691.8V1685.05"/><rect x="554.57" y="1678.1" width="18.1" height="8.2" fill="#3d9bf3" stroke="none"/><path d="M590.58 1671.6H598.18 M594.38 1671.6V1678.75"/><path d="M590.58 1691.8H598.18 M594.38 1691.8V1684.05"/><rect x="585.33" y="1677.5" width="18.1" height="7.8" fill="#3d9bf3" stroke="none"/><path d="M621.35 1667.9H628.94 M625.14 1667.9V1678.15"/><path d="M621.35 1691.8H628.94 M625.14 1691.8V1685.65"/><rect x="616.1" y="1676.9" width="18.1" height="10" fill="#3d9bf3" stroke="none"/><line x1="618.75" y1="1682.9" x2="631.54" y2="1682.9" stroke="#9ccbf8" stroke-width="2"/><path d="M652.11 1665.4H659.71 M655.91 1665.4V1675.25"/><path d="M652.11 1691.8H659.71 M655.91 1691.8V1681.85"/><rect x="646.86" y="1674" width="18.1" height="9.1" fill="#3d9bf3" stroke="none"/><line x1="649.51" y1="1680.3" x2="662.31" y2="1680.3" stroke="#9ccbf8" stroke-width="1"/><path d="M682.88 1660.1H690.47 M686.67 1660.1V1671.85"/><path d="M682.88 1690.4H690.47 M686.67 1690.4V1680.25"/><rect x="678.92" y="1671.9" width="15.5" height="8.3" fill="#a3cff9"/><path d="M678.92 1675H694.42"/><path d="M713.64 1651H721.24 M717.44 1651V1668.15"/><path d="M713.64 1690.4H721.24 M717.44 1690.4V1678.35"/><rect x="709.69" y="1668.2" width="15.5" height="10.1" fill="#a3cff9"/><path d="M709.69 1672.3H725.19"/><path d="M744.4 1649.8H752 M748.2 1649.8V1662.85"/><path d="M744.4 1689.8H752 M748.2 1689.8V1673.75"/><rect x="740.45" y="1662.9" width="15.5" height="10.8" fill="#a3cff9"/><path d="M740.45 1667.6H755.95"/><path d="M775.17 1612.6H782.77 M778.97 1612.6V1632.85"/><path d="M775.17 1653.9H782.77 M778.97 1653.9V1646.85"/><rect x="771.22" y="1632.9" width="15.5" height="13.9" fill="#a3cff9"/><path d="M771.22 1637.7H786.72"/><path d="M805.93 1602.5H813.53 M809.73 1602.5V1621.25"/><path d="M805.93 1648.5H813.53 M809.73 1648.5V1636.85"/><rect x="801.98" y="1621.3" width="15.5" height="15.5" fill="#a3cff9"/><path d="M801.98 1626.1H817.48"/><path d="M836.7 1537.9H844.3 M840.5 1537.9V1549.15"/><path d="M836.7 1574.8H844.3 M840.5 1574.8V1568.5"/><rect x="832.75" y="1549.2" width="15.5" height="19.25" fill="#a3cff9"/><path d="M832.75 1553.6H848.25"/><line x1="864.2" y1="1496.5" x2="878.6" y2="1496.5" stroke="#3d9bf3" stroke-width="2.8"/></g><g fill="#3d9bf3"><circle cx="566.2" cy="1669.8" r="2.1"/><circle cx="594.6" cy="1669.2" r="2.6"/><circle cx="657.2" cy="1663.8" r="2.4"/><circle cx="777.3" cy="1685" r="2.7"/><circle cx="810" cy="1591.3" r="2.5"/><circle cx="809.2" cy="1677.6" r="2.4"/><circle cx="808.6" cy="1683.6" r="2.6"/><circle cx="811.6" cy="1684.4" r="2.4"/></g>
<line x1="204.6" y1="1485.7" x2="204.6" y2="1703.6" stroke="#48494c" stroke-width="1.4"/>
<line x1="203.9" y1="1702.9" x2="886" y2="1702.9" stroke="#48494c" stroke-width="1.5"/>
<line x1="225.2" y1="1703" x2="225.2" y2="1718.7" stroke="#17181a" stroke-width="2.2"/>
<text x="225.2" y="1742" font-size="21" fill="#9b9ea4" text-anchor="middle">1</text>
<line x1="255.96" y1="1703" x2="255.96" y2="1718.7" stroke="#48494c" stroke-width="1.5"/>
<text x="255.96" y="1742" font-size="21" fill="#9b9ea4" text-anchor="middle">2</text>
<line x1="286.73" y1="1703" x2="286.73" y2="1718.7" stroke="#48494c" stroke-width="1.5"/>
<text x="286.73" y="1742" font-size="21" fill="#9b9ea4" text-anchor="middle">3</text>
<line x1="317.5" y1="1703" x2="317.5" y2="1718.7" stroke="#48494c" stroke-width="1.5"/>
<text x="317.5" y="1742" font-size="21" fill="#9b9ea4" text-anchor="middle">4</text>
<line x1="348.26" y1="1703" x2="348.26" y2="1718.7" stroke="#17181a" stroke-width="2.2"/>
<text x="348.26" y="1742" font-size="21" fill="#9b9ea4" text-anchor="middle">5</text>
<line x1="379.02" y1="1703" x2="379.02" y2="1718.7" stroke="#48494c" stroke-width="1.5"/>
<text x="379.02" y="1742" font-size="21" fill="#9b9ea4" text-anchor="middle">6</text>
<line x1="409.79" y1="1703" x2="409.79" y2="1718.7" stroke="#48494c" stroke-width="1.5"/>
<text x="409.79" y="1742" font-size="21" fill="#9b9ea4" text-anchor="middle">7</text>
<line x1="440.56" y1="1703" x2="440.56" y2="1718.7" stroke="#48494c" stroke-width="1.5"/>
<text x="440.56" y="1742" font-size="21" fill="#9b9ea4" text-anchor="middle">8</text>
<line x1="471.32" y1="1703" x2="471.32" y2="1718.7" stroke="#17181a" stroke-width="2.2"/>
<text x="471.32" y="1742" font-size="21" fill="#9b9ea4" text-anchor="middle">9</text>
<line x1="502.08" y1="1703" x2="502.08" y2="1718.7" stroke="#17181a" stroke-width="2.2"/>
<text x="502.08" y="1742" font-size="21" fill="#9b9ea4" text-anchor="middle">10</text>
<line x1="532.85" y1="1703" x2="532.85" y2="1718.7" stroke="#48494c" stroke-width="1.5"/>
<text x="532.85" y="1742" font-size="21" fill="#9b9ea4" text-anchor="middle">11</text>
<line x1="563.62" y1="1703" x2="563.62" y2="1718.7" stroke="#48494c" stroke-width="1.5"/>
<text x="563.62" y="1742" font-size="21" fill="#9b9ea4" text-anchor="middle">12</text>
<line x1="594.38" y1="1703" x2="594.38" y2="1718.7" stroke="#48494c" stroke-width="1.5"/>
<text x="594.38" y="1742" font-size="21" fill="#9b9ea4" text-anchor="middle">13</text>
<line x1="625.14" y1="1703" x2="625.14" y2="1718.7" stroke="#17181a" stroke-width="2.2"/>
<text x="625.14" y="1742" font-size="21" fill="#9b9ea4" text-anchor="middle">14</text>
<line x1="655.91" y1="1703" x2="655.91" y2="1718.7" stroke="#17181a" stroke-width="2.2"/>
<text x="655.91" y="1742" font-size="21" fill="#9b9ea4" text-anchor="middle">15</text>
<line x1="686.67" y1="1703" x2="686.67" y2="1718.7" stroke="#48494c" stroke-width="1.5"/>
<text x="686.67" y="1742" font-size="21" fill="#9b9ea4" text-anchor="middle">16</text>
<line x1="717.44" y1="1703" x2="717.44" y2="1718.7" stroke="#48494c" stroke-width="1.5"/>
<text x="717.44" y="1742" font-size="21" fill="#9b9ea4" text-anchor="middle">17</text>
<line x1="748.2" y1="1703" x2="748.2" y2="1718.7" stroke="#48494c" stroke-width="1.5"/>
<text x="748.2" y="1742" font-size="21" fill="#9b9ea4" text-anchor="middle">18</text>
<line x1="778.97" y1="1703" x2="778.97" y2="1718.7" stroke="#17181a" stroke-width="2.2"/>
<text x="778.97" y="1742" font-size="21" fill="#9b9ea4" text-anchor="middle">19</text>
<line x1="809.73" y1="1703" x2="809.73" y2="1718.7" stroke="#17181a" stroke-width="2.2"/>
<text x="809.73" y="1742" font-size="21" fill="#9b9ea4" text-anchor="middle">20</text>
<line x1="840.5" y1="1703" x2="840.5" y2="1718.7" stroke="#48494c" stroke-width="1.5"/>
<text x="840.5" y="1742" font-size="21" fill="#9b9ea4" text-anchor="middle">21</text>
<line x1="871.27" y1="1703" x2="871.27" y2="1718.7" stroke="#48494c" stroke-width="1.5"/>
<text x="871.27" y="1742" font-size="21" fill="#9b9ea4" text-anchor="middle">22</text>
<text x="481.02" y="1775" font-size="20.9" fill="#565a60" textLength="130.46" lengthAdjust="spacingAndGlyphs">Position grade</text>
</svg></section>
<section class="card chart trend" style="left:971px;top:1335px;width:916px;height:479px">
<svg class="cv" viewBox="975 1335 916 479" width="916" height="479">
<rect x="975" y="1335" width="916" height="75.2" fill="#f7f8fa"/>
<line x1="975" y1="1410.6" x2="1891" y2="1410.6" stroke="#e0e3ec" stroke-width="1.3"/>
<text x="997.71" y="1379.85" font-size="25.3" fill="#2b2e33" color="#2b2e33" class="semi" textLength="67.42" lengthAdjust="spacingAndGlyphs">Trend</text>
<g fill="#a0a4a9"><rect x="1793" y="1369.3" width="7.1" height="2.3" fill="#a0a4a9"/><rect x="1794" y="1374.6" width="5.1" height="8.25" fill="#a0a4a9"/><rect x="1801" y="1360" width="7.5" height="2.2" fill="#a0a4a9"/><rect x="1802.5" y="1365.2" width="4.6" height="17.65" fill="#a0a4a9"/><rect x="1809.3" y="1364.8" width="7.4" height="2.1" fill="#a0a4a9"/><rect x="1810.3" y="1369.6" width="5.1" height="13.25" fill="#a0a4a9"/></g>
<path d="M1859.5 1364.5 V1361.4 H1839.7 V1381.85 H1859.5 V1378.9" fill="none" stroke="#a0a4a9" stroke-width="2.5"/><path d="M1845.7 1371.7 H1857.6 M1853.8 1366.8 L1858.7 1371.7 L1853.8 1376.6" fill="none" stroke="#a0a4a9" stroke-width="2.5" stroke-linejoin="miter"/>
<text x="1212.97" y="1477.2" font-size="22.3" fill="#3a3d42" color="#3a3d42" class="semi" textLength="440.81" lengthAdjust="spacingAndGlyphs">Leavers (12 months) over time by gender</text>
<line x1="1106.8" y1="1526.7" x2="1807" y2="1526.7" stroke="#e2e5ee" stroke-width="1.25"/>
<text x="1087" y="1533.8" font-size="21" fill="#9b9ea4" textLength="44" lengthAdjust="spacingAndGlyphs" text-anchor="end">1250</text>
<line x1="1106.8" y1="1548.9" x2="1807" y2="1548.9" stroke="#e2e5ee" stroke-width="1.25"/>
<text x="1087" y="1556" font-size="21" fill="#9b9ea4" textLength="44" lengthAdjust="spacingAndGlyphs" text-anchor="end">1200</text>
<line x1="1106.8" y1="1571.1" x2="1807" y2="1571.1" stroke="#e2e5ee" stroke-width="1.25"/>
<text x="1087" y="1578.2" font-size="21" fill="#9b9ea4" textLength="44" lengthAdjust="spacingAndGlyphs" text-anchor="end">1150</text>
<line x1="1106.8" y1="1593.2" x2="1807" y2="1593.2" stroke="#e2e5ee" stroke-width="1.25"/>
<text x="1087" y="1600.3" font-size="21" fill="#9b9ea4" textLength="44" lengthAdjust="spacingAndGlyphs" text-anchor="end">1100</text>
<text x="0" y="0" font-size="20.9" fill="#565a60" text-anchor="middle" transform="translate(1034.4 1560.6) rotate(-90)" textLength="183" lengthAdjust="spacingAndGlyphs">Leavers (12 months)</text>
<line x1="1106.8" y1="1514.3" x2="1106.8" y2="1611.5" stroke="#48494c" stroke-width="1.4"/>
<line x1="1106.1" y1="1610.4" x2="1807" y2="1610.4" stroke="#111" stroke-width="2.3"/>
<line x1="1149.5" y1="1610.4" x2="1149.5" y2="1625.6" stroke="#48494c" stroke-width="1.5"/>
<text x="0" y="0" font-size="21" fill="#9b9ea4" transform="translate(1145.5 1648.3) rotate(30)" textLength="80.7" lengthAdjust="spacingAndGlyphs">Apr 2022</text>
<line x1="1204.5" y1="1610.4" x2="1204.5" y2="1625.6" stroke="#17181a" stroke-width="2.2"/>
<text x="0" y="0" font-size="21" fill="#9b9ea4" transform="translate(1200.5 1648.3) rotate(30)" textLength="86.5" lengthAdjust="spacingAndGlyphs">May 2022</text>
<line x1="1261.5" y1="1610.4" x2="1261.5" y2="1625.6" stroke="#48494c" stroke-width="1.5"/>
<text x="0" y="0" font-size="21" fill="#9b9ea4" transform="translate(1257.5 1648.3) rotate(30)" textLength="77.6" lengthAdjust="spacingAndGlyphs">Jun 2022</text>
<line x1="1317" y1="1610.4" x2="1317" y2="1625.6" stroke="#48494c" stroke-width="1.5"/>
<text x="0" y="0" font-size="21" fill="#9b9ea4" transform="translate(1313 1648.3) rotate(30)" textLength="70.7" lengthAdjust="spacingAndGlyphs">Jul 2022</text>
<line x1="1374" y1="1610.4" x2="1374" y2="1625.6" stroke="#17181a" stroke-width="2.2"/>
<text x="0" y="0" font-size="21" fill="#9b9ea4" transform="translate(1370 1648.3) rotate(30)" textLength="83.4" lengthAdjust="spacingAndGlyphs">Aug 2022</text>
<line x1="1430.75" y1="1610.4" x2="1430.75" y2="1625.6" stroke="#48494c" stroke-width="1.5"/>
<text x="0" y="0" font-size="21" fill="#9b9ea4" transform="translate(1426.75 1648.3) rotate(30)" textLength="82" lengthAdjust="spacingAndGlyphs">Sep 2022</text>
<line x1="1486.25" y1="1610.4" x2="1486.25" y2="1625.6" stroke="#48494c" stroke-width="1.5"/>
<text x="0" y="0" font-size="21" fill="#9b9ea4" transform="translate(1482.25 1648.3) rotate(30)" textLength="80" lengthAdjust="spacingAndGlyphs">Oct 2022</text>
<line x1="1543" y1="1610.4" x2="1543" y2="1625.6" stroke="#17181a" stroke-width="2.2"/>
<text x="0" y="0" font-size="21" fill="#9b9ea4" transform="translate(1539 1648.3) rotate(30)" textLength="84.5" lengthAdjust="spacingAndGlyphs">Nov 2022</text>
<line x1="1598.25" y1="1610.4" x2="1598.25" y2="1625.6" stroke="#48494c" stroke-width="1.5"/>
<text x="0" y="0" font-size="21" fill="#9b9ea4" transform="translate(1594.25 1648.3) rotate(30)" textLength="82.8" lengthAdjust="spacingAndGlyphs">Dec 2022</text>
<line x1="1655.5" y1="1610.4" x2="1655.5" y2="1625.6" stroke="#48494c" stroke-width="1.5"/>
<text x="0" y="0" font-size="21" fill="#9b9ea4" transform="translate(1651.5 1648.3) rotate(30)" textLength="76.5" lengthAdjust="spacingAndGlyphs">Jan 2023</text>
<line x1="1712.5" y1="1610.4" x2="1712.5" y2="1625.6" stroke="#48494c" stroke-width="1.5"/>
<text x="0" y="0" font-size="21" fill="#9b9ea4" transform="translate(1708.5 1648.3) rotate(30)" textLength="81.4" lengthAdjust="spacingAndGlyphs">Feb 2023</text>
<line x1="1764.25" y1="1610.4" x2="1764.25" y2="1625.6" stroke="#48494c" stroke-width="1.5"/>
<text x="0" y="0" font-size="21" fill="#9b9ea4" transform="translate(1760.25 1648.3) rotate(30)" textLength="84.7" lengthAdjust="spacingAndGlyphs">Mar 2023</text>
<polyline points="1149.5,1550 1204.5,1553.25 1261.5,1548 1317,1557 1374,1567 1430.75,1577.8 1486.25,1568 1543,1583 1598.25,1590.75 1655.5,1597.5 1712.5,1592 1764.25,1572.5" fill="none" stroke="#a3d14a" stroke-width="2.6" stroke-linejoin="round"/>
<g fill="#a3d14a"><circle cx="1149.5" cy="1550" r="5.9"/><circle cx="1204.5" cy="1553.25" r="5.9"/><circle cx="1261.5" cy="1548" r="5.9"/><circle cx="1317" cy="1557" r="5.9"/><circle cx="1374" cy="1567" r="5.9"/><circle cx="1430.75" cy="1577.8" r="5.9"/><circle cx="1486.25" cy="1568" r="5.9"/><circle cx="1543" cy="1583" r="5.9"/><circle cx="1598.25" cy="1590.75" r="5.9"/><circle cx="1655.5" cy="1597.5" r="5.9"/><circle cx="1712.5" cy="1592" r="5.9"/><circle cx="1764.25" cy="1572.5" r="5.9"/></g>
<polyline points="1149.5,1536.75 1204.5,1526.25 1261.5,1530.75 1317,1539.5 1374,1551.75 1430.75,1567.5 1486.25,1560 1543,1568.5 1598.25,1567.5 1655.5,1569.5 1712.5,1566.25 1764.25,1545" fill="none" stroke="#3d9bf3" stroke-width="2.6" stroke-linejoin="round"/>
<g fill="#3d9bf3"><circle cx="1149.5" cy="1536.75" r="5.9"/><circle cx="1204.5" cy="1526.25" r="5.9"/><circle cx="1261.5" cy="1530.75" r="5.9"/><circle cx="1317" cy="1539.5" r="5.9"/><circle cx="1374" cy="1551.75" r="5.9"/><circle cx="1430.75" cy="1567.5" r="5.9"/><circle cx="1486.25" cy="1560" r="5.9"/><circle cx="1543" cy="1568.5" r="5.9"/><circle cx="1598.25" cy="1567.5" r="5.9"/><circle cx="1655.5" cy="1569.5" r="5.9"/><circle cx="1712.5" cy="1566.25" r="5.9"/><circle cx="1764.25" cy="1545" r="5.9"/></g>
<text x="1434.77" y="1718.75" font-size="20.9" fill="#565a60" textLength="44.71" lengthAdjust="spacingAndGlyphs">Time</text>
<line x1="1114.3" y1="1758" x2="1159" y2="1758" stroke="#3d9bf3" stroke-width="2.6"/>
<circle cx="1136.6" cy="1758" r="5.9" fill="#3d9bf3"/>
<text x="1167.17" y="1765.5" font-size="20.9" fill="#565a60" textLength="39.86" lengthAdjust="spacingAndGlyphs">Men</text>
<line x1="1222.3" y1="1758" x2="1266.8" y2="1758" stroke="#a3d14a" stroke-width="2.6"/>
<circle cx="1244.5" cy="1758" r="5.9" fill="#a3d14a"/>
<text x="1274.37" y="1765.5" font-size="20.9" fill="#565a60" textLength="70.76" lengthAdjust="spacingAndGlyphs">Women</text>
</svg></section>
</main>
<footer><svg class="cap" viewBox="0 1835 1920 83" width="1920" height="83"><text x="25.13" y="1883" font-size="33.4" fill="#555" class="it" textLength="1474.04" lengthAdjust="spacingAndGlyphs">Demonstration of how a CSRD report can be generated using Crunchr in a matter of minutes</text></svg></footer>
</body></html>
